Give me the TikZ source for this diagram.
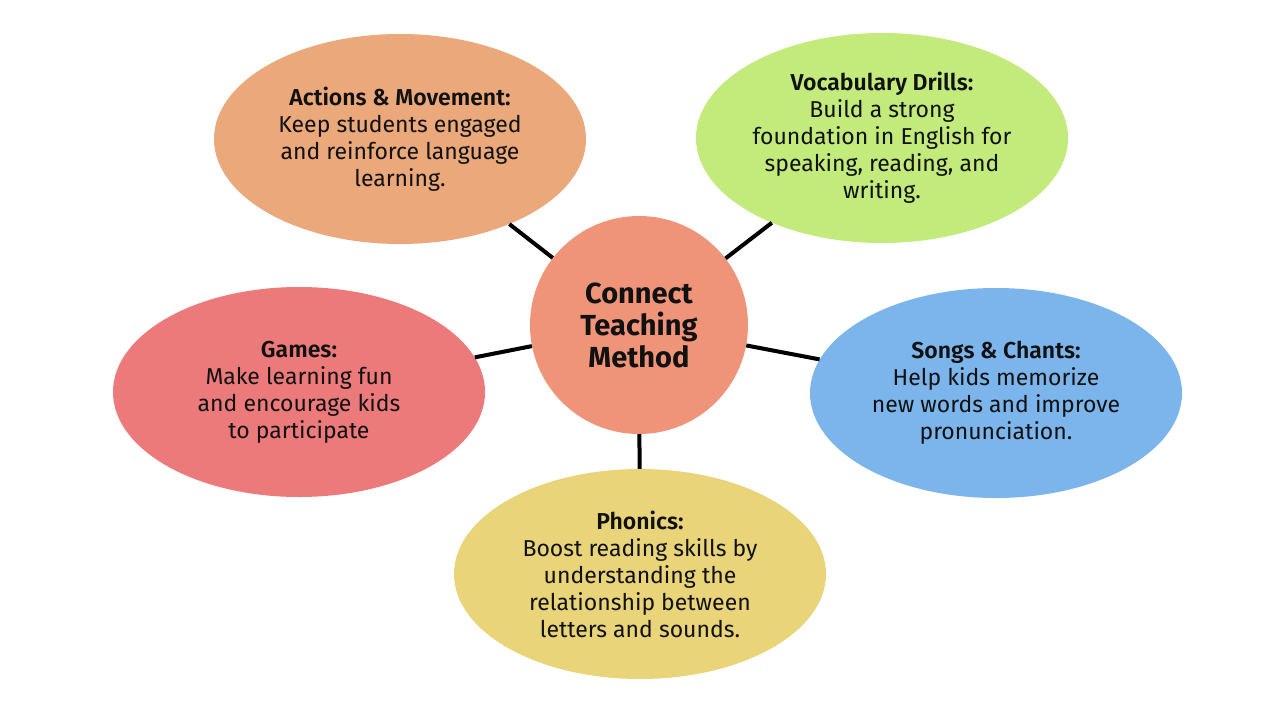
\documentclass[tikz,border=0pt]{standalone}
\usepackage{fontspec}
\setmainfont{Fira Sans}[BoldFont={Fira Sans SemiBold}]
\newfontfamily\hubfont{Fira Sans}
\usetikzlibrary{shapes.geometric}
\definecolor{cActions}{HTML}{EAA87B}
\definecolor{cVocab}{HTML}{C2EB7B}
\definecolor{cGames}{HTML}{EC7A7A}
\definecolor{cSongs}{HTML}{7BB5EC}
\definecolor{cPhonics}{HTML}{E9D47A}
\definecolor{cHub}{HTML}{EF9479}
\definecolor{ink}{HTML}{111111}
\begin{document}
\begin{tikzpicture}[x=1pt,y=-1pt,
  topic/.style={ellipse, draw=none, minimum width=372pt, minimum height=210pt,
    inner sep=0pt, align=center, text=ink,
    font=\fontsize{23}{27}\selectfont},
  hub/.style={circle, draw=none, fill=cHub, minimum size=218pt, inner sep=0pt,
    align=center, text=ink, font=\fontsize{29}{32}\hubfont\bfseries},
  link/.style={line width=4pt, black}]
\useasboundingbox (0,0) rectangle (1280,720);
\fill[white] (0,0) rectangle (1280,720);

% central hub and the five teaching methods around it
\node[hub] (hub) at (639,325) {Connect\\Teaching\\Method};
\node[topic, fill=cActions] (act) at (400,139)
  {\textbf{Actions \& Movement:}\\Keep students engaged\\and reinforce language\\learning.};
\node[topic, fill=cVocab] (voc) at (882,138)
  {\textbf{Vocabulary Drills:}\\Build a strong\\foundation in English for\\speaking, reading, and\\writing.};
\node[topic, fill=cGames] (gam) at (299,392)
  {\textbf{Games:}\\Make learning fun\\and encourage kids\\to participate};
\node[topic, fill=cSongs] (son) at (996,393)
  {\textbf{Songs \& Chants:}\\Help kids memorize\\new words and improve\\pronunciation.};
\node[topic, fill=cPhonics] (pho) at (640,574)
  {\textbf{Phonics:}\\Boost reading skills by\\understanding the\\relationship between\\letters and sounds.};

% spokes, clipped at the node borders
\draw[link] (hub) -- (act);
\draw[link] (hub) -- (voc);
\draw[link] (hub) -- (gam);
\draw[link] (hub) -- (son);
\draw[link] (hub) -- (pho);
\end{tikzpicture}
\end{document}
